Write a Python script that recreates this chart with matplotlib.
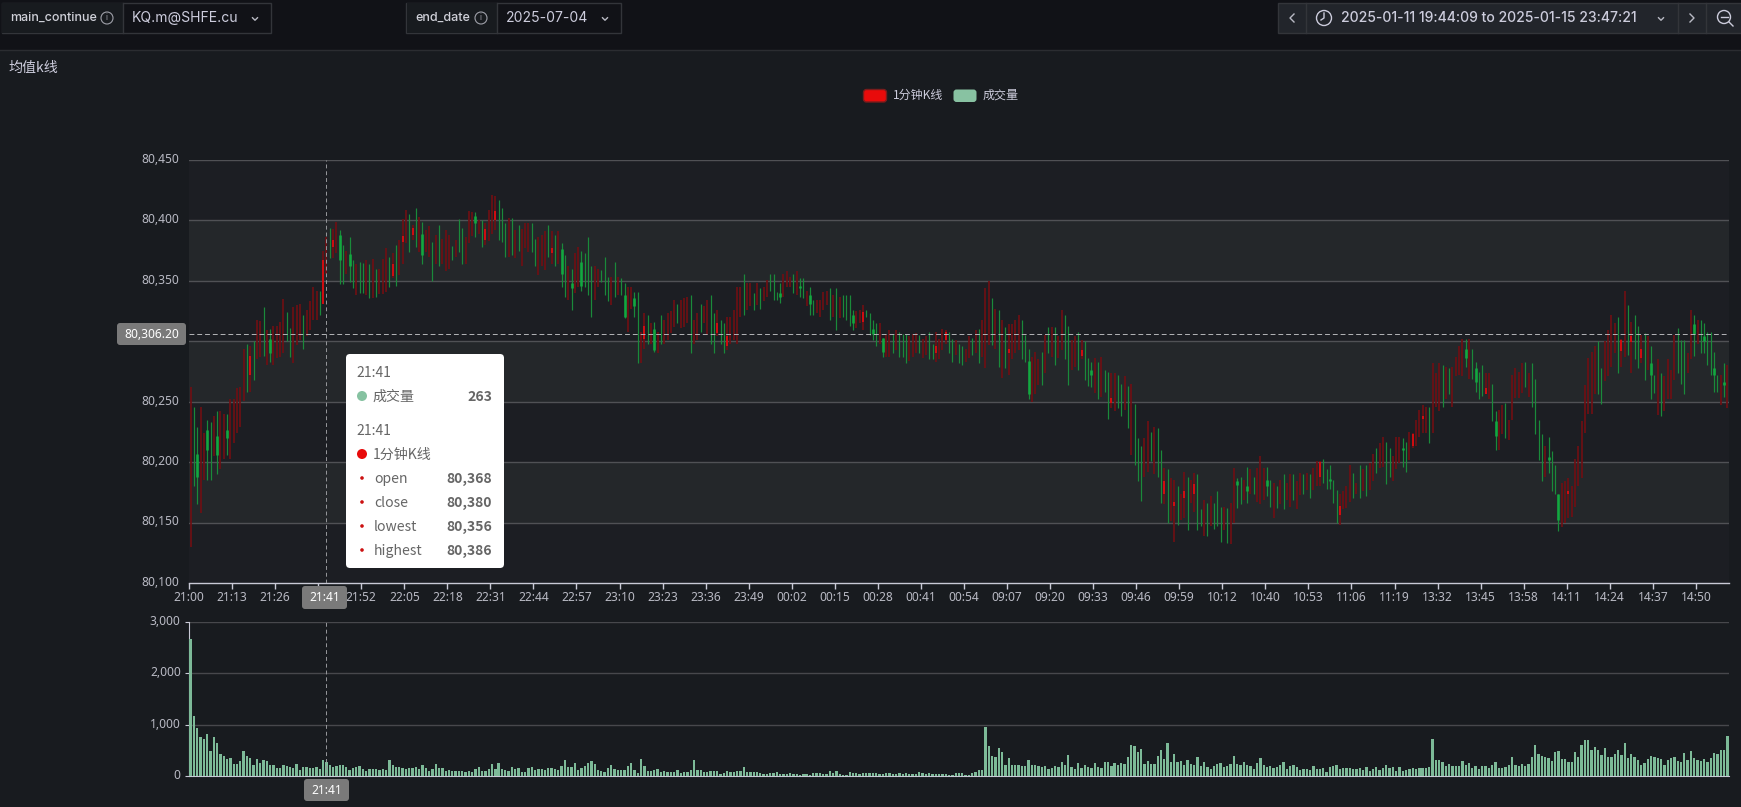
import matplotlib
matplotlib.use("Agg")
import matplotlib.pyplot as plt
from matplotlib.patches import Rectangle, FancyBboxPatch, Circle
from matplotlib.transforms import ScaledTranslation
import numpy as np

W, H = 1741, 807

tick_labels = ["21:00","21:13","21:26","21:39","21:52","22:05","22:18","22:31","22:44","22:57","23:10","23:23",
               "23:36","23:49","00:02","00:15","00:28","00:41","00:54","09:07","09:20","09:33","09:46","09:59",
               "10:12","10:40","10:53","11:06","11:19","13:32","13:45","13:58","14:11","14:24","14:37","14:50"]

high = [
80262,80246,80229,80246,80224,80235,80233,80238,80242,80242,80240,80240,80252,
80252,80261,80262,80294,80298,80296,80300,80318,80317,80328,80309,80310,80313,
80313,80316,80335,80324,80311,80328,80330,80331,80322,80326,80333,80345,80342,
80342,80375,80386,80394,80393,80399,80392,80380,80375,80386,80367,80364,80366,
80365,80367,80364,80368,80360,80360,80368,80377,80370,80373,80380,80384,80401,
80409,80405,80396,80410,80403,80399,80392,80395,80382,80388,80396,80385,80392,
80388,80379,80384,80401,80394,80386,80408,80407,80407,80400,80400,80398,80409,
80421,80420,80417,80410,80398,80402,80402,80392,80396,80393,80398,80398,80398,
80385,80386,80388,80391,80396,80391,80388,80391,80381,80371,80362,80360,80373,
80378,80375,80373,80386,80362,80362,80360,80359,80370,80353,80353,80366,80353,
80352,80348,80345,80345,80341,80341,80308,80323,80322,80315,80316,80308,80322,
80318,80323,80325,80334,80331,80334,80336,80337,80338,80318,80323,80331,80329,
80334,80338,80323,80326,80318,80315,80320,80320,80326,80345,80345,80356,80348,
80348,80340,80348,80344,80345,80351,80356,80356,80341,80348,80356,80358,80353,
80356,80358,80352,80352,80342,80345,80334,80334,80334,80341,80342,80344,80338,
80344,80337,80338,80338,80338,80326,80325,80326,80330,80326,80323,80318,80315,
80315,80303,80305,80309,80306,80309,80308,80306,80306,80304,80306,80307,80305,
80302,80304,80308,80298,80308,80302,80310,80309,80308,80302,80301,80298,80296,
80294,80304,80303,80309,80310,80318,80344,80350,80336,80327,80326,80318,80312,
80314,80314,80318,80322,80318,80305,80294,80287,80291,80285,80291,80305,80312,
80312,80312,80304,80326,80322,80313,80301,80304,80308,80301,80300,80286,80283,
80286,80283,80287,80276,80275,80274,80274,80272,80265,80271,80263,80265,80248,
80220,80213,80220,80234,80225,80229,80228,80210,80195,80194,80187,80185,80180,
80174,80192,80188,80185,80191,80190,80161,80169,80166,80172,80166,80176,80163,
80163,80162,80166,80195,80187,80188,80185,80196,80194,80188,80195,80205,80195,
80196,80185,80183,80180,80185,80190,80183,80190,80190,80184,80191,80190,80191,
80190,80195,80201,80201,80203,80194,80198,80185,80177,80174,80176,80180,80198,
80191,80183,80198,80194,80198,80199,80207,80212,80216,80221,80217,80212,80205,
80221,80221,80220,80217,80225,80224,80235,80243,80247,80246,80246,80282,80274,
80282,80280,80279,80278,80279,80287,80296,80302,80302,80302,80294,80283,80275,
80280,80274,80274,80265,80242,80243,80247,80249,80235,80272,80278,80275,80282,
80283,80274,80282,80269,80235,80223,80213,80221,80209,80198,80174,80183,80184,
80187,80180,80203,80213,80234,80264,80286,80291,80296,80300,80278,80300,80309,
80322,80315,80320,80302,80342,80330,80316,80322,80313,80305,80307,80304,80296,
80272,80285,80274,80271,80285,80276,80305,80311,80301,80301,80290,80326,80322,
80318,80318,80315,80308,80308,80291,80272,80272,80282,80280]

low = [
80130,80180,80165,80158,80185,80185,80185,80205,80190,80194,80203,80206,80203,
80216,80224,80229,80251,80258,80258,80268,80285,80287,80288,80280,80283,80280,
80286,80287,80290,80300,80287,80282,80297,80301,80294,80304,80309,80318,80318,
80322,80331,80356,80369,80369,80373,80347,80347,80356,80349,80344,80338,80340,
80340,80338,80336,80336,80337,80339,80339,80341,80345,80352,80346,80355,80364,
80381,80374,80384,80378,80374,80364,80374,80370,80350,80364,80362,80364,80358,
80360,80367,80370,80374,80364,80364,80381,80387,80386,80389,80378,80380,80383,
80389,80392,80384,80382,80370,80370,80371,80369,80375,80362,80377,80374,80374,
80362,80355,80362,80359,80370,80364,80362,80364,80345,80337,80334,80326,80340,
80345,80342,80345,80338,80320,80334,80345,80349,80338,80333,80330,80337,80338,
80338,80319,80308,80327,80320,80282,80282,80294,80298,80298,80291,80290,80298,
80298,80301,80307,80312,80315,80311,80312,80315,80290,80298,80301,80308,80315,
80305,80298,80290,80304,80298,80290,80293,80298,80301,80298,80320,80322,80326,
80329,80326,80330,80327,80333,80337,80342,80334,80334,80332,80337,80345,80345,
80340,80338,80337,80336,80329,80322,80322,80323,80320,80326,80330,80318,80320,
80309,80319,80320,80318,80313,80309,80311,80315,80309,80320,80305,80301,80296,
80298,80287,80287,80287,80290,80293,80287,80287,80282,80284,80287,80290,80290,
80286,80289,80285,80285,80283,80285,80293,80298,80290,80283,80289,80282,80280,
80283,80286,80289,80290,80282,80287,80278,80297,80297,80294,80279,80270,80278,
80272,80285,80290,80293,80285,80283,80252,80250,80256,80264,80264,80274,80290,
80287,80280,80286,80293,80285,80264,80276,80279,80276,80285,80268,80263,80262,
80257,80252,80254,80258,80236,80245,80242,80245,80238,80243,80228,80206,80198,
80184,80168,80188,80192,80201,80190,80188,80166,80165,80150,80151,80134,80148,
80152,80154,80144,80166,80159,80144,80147,80139,80139,80147,80145,80147,80134,
80144,80133,80132,80150,80162,80165,80169,80166,80174,80174,80167,80165,80169,
80172,80163,80154,80162,80165,80161,80169,80163,80169,80161,80173,80174,80177,
80170,80177,80180,80180,80183,80178,80178,80166,80150,80148,80161,80162,80167,
80170,80174,80170,80176,80172,80177,80184,80191,80195,80196,80182,80188,80184,
80194,80199,80196,80192,80202,80212,80213,80221,80224,80224,80216,80224,80246,
80242,80246,80252,80256,80246,80271,80272,80271,80279,80269,80269,80258,80252,
80255,80256,80252,80234,80210,80210,80223,80220,80218,80235,80253,80253,80257,
80262,80254,80246,80223,80202,80184,80188,80191,80176,80174,80143,80146,80150,
80154,80155,80163,80180,80187,80224,80240,80240,80256,80256,80248,80267,80271,
80279,80290,80274,80279,80287,80289,80274,80285,80278,80282,80268,80276,80252,
80257,80239,80238,80242,80252,80252,80268,80274,80265,80256,80274,80285,80288,
80298,80290,80290,80280,80272,80258,80258,80247,80254,80245]

# r = rising candle, g = falling candle
direction = ("rggrrggrgrrgr" "rrrrgrgrrgrgr" "rrrggrrrgrrrr" "grrgrrggrggrg" "grgrgrrrgrgrr"
             "rgrgrgrrgrgrr" "rgrggrrrgrgrr" "rrgggrgrgrrrg" "grrrgrgrggrgr" "rggggrrgggrgr"
             "ggrrggrrgrgrg" "rrrrgrrrgrrgr" "rggrggrrrrrgr" "rgrgrrggggrrr" "grggrggrrrrgr"
             "grggggrrrgggg" "rgrrgrgggrrrg" "rrggrrrrggrgg" "rrgrgrrrgrgrg" "rrrrgggrrrgrg"
             "rgrrggrrgrggg" "rgrggrrggrgrg" "ggrrgrggrgrrg" "rrgrrggrgrggg" "rgrrggrgrgrrr"
             "ggrgrgrrgrrgr" "grrrgggggrrrr" "grgrgrrgrrggr" "rrggrrrrrrgrr" "rgrgrrrrgrggg"
             "grrggrrgrrrrr" "grggggrggggrr" "rrrrrrrrrggrr" "rrgrrgrggrgrg" "grgrrrrgggrrg"
             "rggggggrgr")

# candle bodies that stand out clearly in the picture
body_index = [2,5,8,11,18,24,40,43,45,48,61,64,67,70,86,89,92,109,112,115,118,131,134,137,140,159,162,178,184,187,
              200,203,206,209,225,228,247,253,269,272,278,294,297,300,303,316,319,325,341,344,347,366,369,372,385,
              388,391,394,410,413,416,432,435,438,441,454,457,460,463]
body_top = [80207,80227,80222,80227,80288,80302,80367,80384,80388,80372,80364,80387,80394,80389,80404,80393,80408,
            80377,80376,80348,80366,80338,80336,80313,80310,80315,80304,80340,80346,80338,80322,80324,80310,80303,
            80296,80308,80294,80284,80293,80276,80253,80184,80167,80176,80182,80184,80180,80185,80200,80186,80164,
            80212,80223,80238,80294,80278,80261,80234,80204,80174,80176,80301,80304,80294,80282,80314,80304,80278,80266]
body_bottom = [80188,80210,80206,80220,80272,80290,80331,80378,80367,80362,80354,80382,80388,80371,80398,80384,80400,
               80373,80356,80344,80346,80320,80329,80302,80293,80307,80296,80337,80344,80331,80315,80316,80306,80291,
               80290,80301,80290,80256,80288,80272,80249,80174,80164,80170,80174,80181,80176,80180,80188,80184,80156,
               80210,80213,80236,80286,80266,80256,80222,80202,80152,80174,80292,80299,80286,80272,80306,80300,80272,80264]

volume = [
2660,1175,935,765,720,820,480,760,650,435,395,325,350,235,235,300,490,385,345,220,330,260,310,300,215,215,155,155,215,195,
175,160,235,125,175,170,165,165,170,130,310,263,215,170,190,210,205,175,110,155,180,195,135,90,135,130,135,125,145,115,
310,210,175,175,155,130,155,150,180,145,210,150,95,145,230,155,155,90,110,90,90,100,105,85,105,80,130,170,100,95,
135,230,135,250,140,110,105,180,135,155,70,80,155,170,110,140,135,110,150,150,140,120,195,305,185,175,245,120,150,190,
255,290,240,115,105,70,150,210,135,115,115,120,195,250,110,60,335,190,90,100,120,135,80,90,75,85,80,110,60,85,
70,110,320,115,120,75,85,90,95,95,45,65,90,80,85,90,105,175,75,75,70,75,60,45,45,50,55,70,40,40,
40,60,40,40,25,30,30,25,55,60,65,30,35,90,60,105,30,25,20,70,60,50,40,50,65,55,50,50,40,40,
55,50,45,45,60,40,50,45,40,40,80,50,35,50,45,40,40,35,35,25,25,50,60,55,20,25,60,85,125,125,
960,580,395,370,545,475,215,350,215,220,220,195,200,310,220,220,195,170,195,130,155,195,170,270,220,415,180,145,245,155,
215,170,155,255,170,155,280,275,190,255,215,255,235,375,600,580,475,530,230,295,235,240,385,515,340,645,280,420,280,300,
215,320,240,220,370,190,275,180,135,195,235,255,175,190,235,395,240,220,275,215,190,135,260,350,215,170,195,165,180,215,
265,130,200,220,170,125,130,145,115,200,145,135,155,85,170,200,210,135,165,150,165,145,145,165,115,175,100,130,180,110,
165,215,165,170,105,180,105,125,135,165,130,155,150,150,175,730,310,310,275,200,235,195,195,200,295,215,255,165,200,145,
200,200,165,220,275,165,155,175,210,370,215,195,240,200,235,370,605,435,395,375,350,300,470,480,340,330,265,265,470,375,
600,710,700,515,565,505,400,550,375,375,430,505,400,645,355,430,365,305,215,260,340,390,370,360,325,215,310,360,365,300,
265,450,310,480,345,310,300,330,280,350,450,435,505,500,785]

price_ticks = [80100,80150,80200,80250,80300,80350,80400,80450]
volume_ticks = [0,1000,2000,3000]
cross_index = 41
cross_price = 80306.2
cross_label = "21:41"
hidden_price_tick = 80300   # lies under the crosshair badge
hidden_time_tick = "21:39"  # lies under the crosshair badge
tooltip_volume = 263
tooltip_open, tooltip_close, tooltip_lowest, tooltip_highest = 80368, 80380, 80356, 80386

assert len(high) == len(low) == len(direction) == len(volume) == 465
assert len(body_index) == len(body_top) == len(body_bottom)

TXT = "#b9bac4"
PX = 0.72
SANS = ["Noto Sans", "Noto Sans CJK SC", "DejaVu Sans"]
UI = ["Inter", "Noto Sans CJK SC", "DejaVu Sans"]
CJK = ["Noto Sans CJK SC", "DejaVu Sans"]

fig = plt.figure(figsize=(W / 100, H / 100), dpi=100, facecolor="#111217")

def px_axes(l, t, r, b, **kw):
    return fig.add_axes([l / W, 1 - b / H, (r - l) / W, (b - t) / H], **kw)

# ---- background layer (pixel coordinates)
bg = px_axes(0, 0, W, H, zorder=0)
bg.set_xlim(0, W); bg.set_ylim(H, 0); bg.axis("off")
bg.add_patch(Rectangle((0, 50), W, H - 50, fc="#181b1f", ec="none"))
bg.plot([0, W], [50, 50], color="#2b2d31", lw=1)

def box(ax, x0, x1, fc, seps=()):
    ax.add_patch(Rectangle((x0, 2.5), x1 - x0, 30.5, fc=fc, ec="#33353a", lw=1))
    for s in seps:
        ax.plot([s, s], [2.5, 33], color="#33353a", lw=1)

def chevron(ax, x, y, s=2.5, kind="down"):
    if kind == "down":
        ax.plot([x - s, x, x + s], [y - s / 2, y + s / 2, y - s / 2], color=TXT, lw=1)
    elif kind == "left":
        ax.plot([x + s / 2, x - s / 2, x + s / 2], [y - s, y, y + s], color=TXT, lw=1)
    else:
        ax.plot([x - s / 2, x + s / 2, x - s / 2], [y - s, y, y + s], color=TXT, lw=1)

def info(ax, x, y):
    ax.add_patch(Circle((x, y), 6, fc="none", ec="#9fa0a9", lw=0.8))
    ax.text(x, y, "i", color="#9fa0a9", fontsize=8 * PX, ha="center", va="center", family=UI)

bg.add_patch(Rectangle((124, 2.5), 147, 30.5, fc="#111217", ec="none"))
box(bg, 1.5, 271, "none", (123,))
bg.add_patch(Rectangle((2, 3), 121, 30, fc="#181b1f", ec="none"))
bg.text(10, 18, "main_continue", color="#d0d1d9", fontsize=12.5 * PX, va="center", family=UI, weight="medium")
info(bg, 107, 18)
bg.text(132, 18, "KQ.m@SHFE.cu", color="#ccccdc", fontsize=14 * PX, va="center", family=UI)
chevron(bg, 255, 19)

box(bg, 406, 621, "none", (497,))
bg.add_patch(Rectangle((406.5, 3), 90, 30, fc="#181b1f", ec="none"))
bg.text(415, 18, "end_date", color="#d0d1d9", fontsize=12.5 * PX, va="center", family=UI, weight="medium")
info(bg, 481, 18)
bg.text(506, 18, "2025-07-04", color="#ccccdc", fontsize=14 * PX, va="center", family=UI)
chevron(bg, 605, 19)

box(bg, 1278, W + 5, "#22252b", (1306, 1678, 1706))
chevron(bg, 1292, 18, 4, "left")
chevron(bg, 1692, 18, 4, "right")
bg.add_patch(Circle((1324, 18), 7.5, fc="none", ec="#ccccdc", lw=1))
bg.plot([1324, 1324, 1321], [13, 18, 20], color="#ccccdc", lw=1)
bg.text(1341, 18, "2025-01-11 19:44:09 to 2025-01-15 23:47:21", color="#ccccdc", fontsize=14 * PX,
        va="center", family=UI, weight="medium")
chevron(bg, 1661, 19)
bg.add_patch(Circle((1724, 17), 6.5, fc="none", ec="#ccccdc", lw=1))
bg.plot([1720.5, 1727.5], [17, 17], color="#ccccdc", lw=1)
bg.plot([1729, 1733], [22, 26], color="#ccccdc", lw=1)

bg.text(8.5, 68, "均值k线", color="#ccccdc", fontsize=14 * PX, va="center", family=CJK)

# legend
bg.add_patch(FancyBboxPatch((863.5, 89.5), 23, 12.5, boxstyle="round,pad=0,rounding_size=3", fc="#e80b0b", ec="#7a1c1c", lw=1))
bg.text(893, 95, "1分钟K线", color="#ccccdc", fontsize=12 * PX, va="center", family=CJK)
bg.add_patch(FancyBboxPatch((953.5, 89.5), 23, 12.5, boxstyle="round,pad=0,rounding_size=3", fc="#88c2a2", ec="none"))
bg.text(983, 95, "成交量", color="#ccccdc", fontsize=12 * PX, va="center", family=CJK)

# ---- price panel
x = np.arange(len(high)) + 0.5
ax = px_axes(189, 160, 1729, 583, zorder=2, facecolor="none")
ax.set_xlim(0, len(high)); ax.set_ylim(80100, 80450)
for i in range(len(price_ticks) - 1):
    shade = "#24272a" if i % 2 == 1 else "#1c1e23"
    ax.axhspan(price_ticks[i], price_ticks[i + 1], fc=shade, lw=0, zorder=0)
for t in price_ticks[1:]:
    ax.axhline(t, color="#505155", lw=1, zorder=1)

is_up = np.array([c == "r" for c in direction])
H_ = np.array(high); L_ = np.array(low)
ax.vlines(x[is_up], L_[is_up], H_[is_up], color="#6f0f13", lw=1.7 * PX, capstyle="butt", zorder=3)
ax.vlines(x[~is_up], L_[~is_up], H_[~is_up], color="#1a8a3a", lw=1.2 * PX, capstyle="butt", zorder=3)
bi = np.array(body_index)
bt = np.array(body_top); bb = np.array(body_bottom)
bup = is_up[bi]
bx = x[bi]
ax.vlines(bx[bup], bb[bup], bt[bup], color="#cf0d10", lw=2.0 * PX, capstyle="butt", zorder=4)
ax.vlines(bx[~bup], bb[~bup], bt[~bup], color="#12a840", lw=2.6 * PX, capstyle="butt", zorder=4)

ax.axvline(cross_index + 0.5, color="#97989c", lw=0.7, ls=(0, (4, 3)), zorder=5)
ax.axhline(cross_price, color="#b4b5b8", lw=0.7, ls=(0, (5, 3)), zorder=5)

for s in ("top", "left", "right"):
    ax.spines[s].set_visible(False)
ax.spines["bottom"].set_color("#c9cad6")
ax.spines["bottom"].set_linewidth(1)
ax.set_yticks(price_ticks)
ax.set_yticklabels(["" if t == hidden_price_tick else f"{t:,}" for t in price_ticks],
                   color=TXT, fontsize=12 * PX, family=SANS)
ax.tick_params(axis="y", length=0, pad=7)
ax.set_xticks(np.arange(len(tick_labels)) * 13)
ax.set_xticklabels(["" if t == hidden_time_tick else t for t in tick_labels],
                   color=TXT, fontsize=12 * PX, family=SANS)
ax.tick_params(axis="x", length=4, width=1, color="#c9cad6", pad=1.6)
up = ScaledTranslation(0, 1.5 / 72 * 0.72 * 1.39, fig.dpi_scale_trans)
for lb in ax.get_yticklabels():
    lb.set_transform(lb.get_transform() + up)

# ---- volume panel
vx = px_axes(189, 622, 1729, 776, zorder=2, facecolor="none")
vx.set_xlim(0, len(volume)); vx.set_ylim(0, 3000)
for t in volume_ticks[1:]:
    vx.axhline(t, color="#47484c", lw=1, zorder=1)
vx.bar(x, volume, width=0.7, color="#7dba98", lw=0, zorder=3)
vx.axvline(cross_index + 0.5, color="#97989c", lw=0.7, ls=(0, (4, 3)), zorder=5)
for s in ("top", "right"):
    vx.spines[s].set_visible(False)
vx.spines["bottom"].set_color("#c9cad6")
vx.spines["left"].set_color("#c9cad6")
vx.spines["left"].set_linewidth(0.8)
vx.set_yticks(volume_ticks)
vx.set_yticklabels([f"{t:,}" for t in volume_ticks], color=TXT, fontsize=12 * PX, family=SANS)
vx.tick_params(axis="y", length=3, width=0.8, color="#c9cad6", pad=3)
vx.set_xticks([])
for lb in vx.get_yticklabels():
    lb.set_transform(lb.get_transform() + up)

# ---- overlay layer
top = px_axes(0, 0, W, H, zorder=10, facecolor="none")
top.set_xlim(0, W); top.set_ylim(H, 0); top.axis("off")

def badge(x0, y0, x1, y1, label, bold=False):
    top.add_patch(FancyBboxPatch((x0, y0), x1 - x0, y1 - y0, boxstyle="round,pad=0,rounding_size=3",
                                 fc="#7a7a7a", ec="none"))
    top.text((x0 + x1) / 2, (y0 + y1) / 2, label, color="white", fontsize=12 * PX, ha="center", va="center",
             family=SANS, weight="bold" if bold else "normal")

badge(117, 323, 186, 345, f"{cross_price:,.2f}")
badge(302, 586, 347, 609, cross_label, True)
badge(304, 779, 349, 801, cross_label)

# tooltip
top.add_patch(FancyBboxPatch((346, 354), 158, 214, boxstyle="round,pad=0,rounding_size=4", fc="white", ec="none"))
tc = "#666666"
fs = 14 * PX
def t_label(px, py, s, **kw):
    top.text(px, py + 1, s, color=tc, fontsize=fs, va="center", family=CJK, **kw)
t_label(356.5, 372, cross_label)
top.add_patch(Circle((362, 396), 5, fc="#86c2a1", ec="none"))
t_label(372.5, 396, "成交量")
t_label(492, 396, f"{tooltip_volume}", ha="right", weight="bold")
t_label(356.5, 430, cross_label)
top.add_patch(Circle((362, 454), 5, fc="#e80b0b", ec="none"))
t_label(373, 454, "1分钟K线")
rows = [("open", tooltip_open, 478), ("close", tooltip_close, 502), ("lowest", tooltip_lowest, 526), ("highest", tooltip_highest, 550)]
for name, val, yy in rows:
    top.add_patch(Circle((362, yy), 1.8, fc="#cc1111", ec="none"))
    t_label(374, yy, name)
    t_label(492, yy, f"{val:,}", ha="right", weight="bold")

fig.savefig("out.png", dpi=100, facecolor=fig.get_facecolor())
